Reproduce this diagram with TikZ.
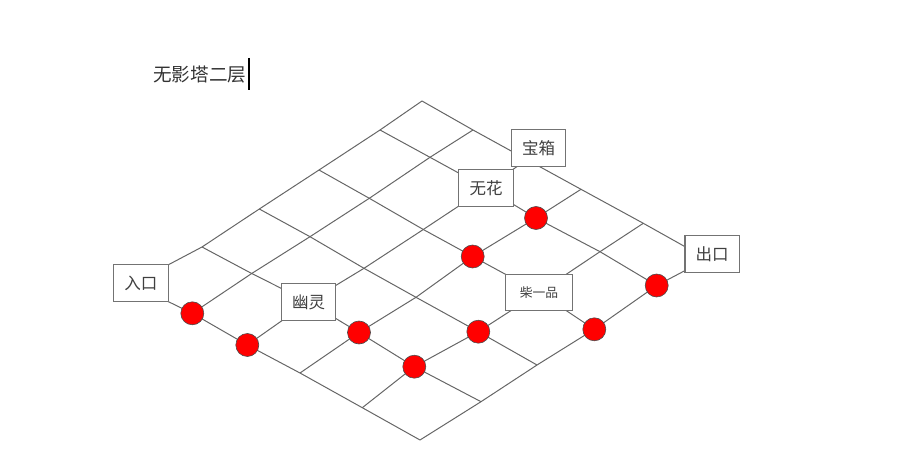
\documentclass[tikz,border=0pt]{standalone}
\usepackage{fontspec}
\newfontfamily\cjk{Noto Sans CJK SC}
\begin{document}
\begin{tikzpicture}[x=1pt,y=-1pt,
  gridline/.style={draw=black!60, line width=1pt, line join=round},
  roombox/.style={draw=black!55, line width=1.1pt, fill=white, minimum width=54.5pt, minimum height=36.8pt, inner sep=0pt, font=\cjk\fontsize{16.5}{16.5}\selectfont, text=black!75},
  reddot/.style={circle, fill=red, draw=black!70, line width=0.6pt, minimum size=23pt, inner sep=0pt}]
\useasboundingbox (0,0) rectangle (915,473);
% vertices of the floor grid: vXY, X = row from top-right edge, Y = column from top-left edge
\coordinate (v00) at (422,101);
\coordinate (v01) at (473,130);
\coordinate (v02) at (527,159.7);
\coordinate (v03) at (581,189.3);
\coordinate (v04) at (643.3,223.3);
\coordinate (v05) at (707,259);
\coordinate (v10) at (380,130);
\coordinate (v11) at (430,157.3);
\coordinate (v12) at (486,188);
\coordinate (v13) at (536,218);
\coordinate (v14) at (600,251.7);
\coordinate (v15) at (656.7,285.5);
\coordinate (v20) at (319,170);
\coordinate (v21) at (369.3,198.3);
\coordinate (v22) at (423.3,229.5);
\coordinate (v23) at (472.7,256.5);
\coordinate (v24) at (539,292.5);
\coordinate (v25) at (594.3,329.3);
\coordinate (v30) at (259.3,209);
\coordinate (v31) at (310,236.7);
\coordinate (v32) at (364,268.3);
\coordinate (v33) at (416,297.3);
\coordinate (v34) at (478.3,331.7);
\coordinate (v35) at (537,365);
\coordinate (v40) at (202,247);
\coordinate (v41) at (251.7,273.5);
\coordinate (v42) at (308.5,302);
\coordinate (v43) at (359,332.5);
\coordinate (v44) at (414.3,366.7);
\coordinate (v45) at (481,401.7);
\coordinate (v50) at (132,284);
\coordinate (v51) at (192.3,313.3);
\coordinate (v52) at (247.3,345);
\coordinate (v53) at (300,373);
\coordinate (v54) at (362.3,407.7);
\coordinate (v55) at (420,440);
% grid lines
\foreach \ii in {0,...,5}
  \draw[gridline] (v\ii 0) -- (v\ii 1) -- (v\ii 2) -- (v\ii 3) -- (v\ii 4) -- (v\ii 5);
\foreach \jj in {0,...,5}
  \draw[gridline] (v0\jj) -- (v1\jj) -- (v2\jj) -- (v3\jj) -- (v4\jj) -- (v5\jj);
% title and cursor
\node[anchor=west, inner sep=0pt, font=\cjk\fontsize{18.6}{18.6}\selectfont, text=black!80] (title) at (153,75) {无影塔二层};
\coordinate (cur1) at (249,58);
\coordinate (cur2) at (249,90);
\draw[line width=1.2pt] (cur1) -- (cur2);
% rooms
\node[roombox] (in) at (140.8,283) {入口};
\node[roombox] (ghost) at (v42) {幽灵};
\node[roombox] (chest) at (538.5,148.3) {宝箱};
\node[roombox] (wuhua) at (v12) {无花};
\node[roombox, minimum width=67.7pt, font=\cjk\fontsize{12.8}{12.8}\selectfont] (chai) at (v24) {柴一品};
\node[roombox] (out) at (712.2,254) {出口};
% red dots
\foreach \kk in {51,52,43,44,34,25,15,23,13}
  \node[reddot] (c\kk) at (v\kk) {};
\end{tikzpicture}
\end{document}
